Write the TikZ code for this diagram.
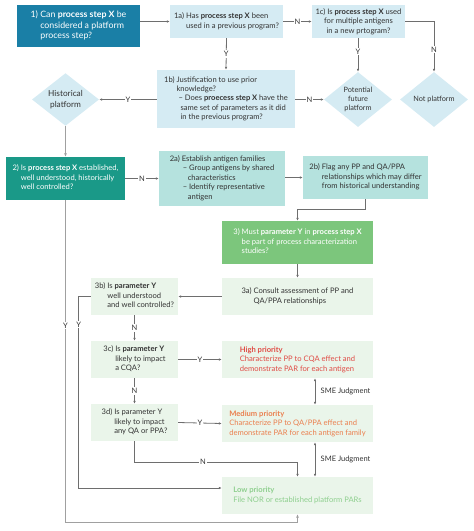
\documentclass[tikz,border=0pt]{standalone}
\usepackage{fontspec}
\setmainfont{Lato}
\usetikzlibrary{shapes.geometric,arrows.meta,calc}
\definecolor{cblue}{HTML}{1A7FA6}
\definecolor{lblue}{HTML}{D5EBF3}
\definecolor{cteal}{HTML}{1A9988}
\definecolor{lteal}{HTML}{B5E2DE}
\definecolor{cgreen}{HTML}{7CC67C}
\definecolor{lgreen}{HTML}{EAF5EA}
\definecolor{cred}{HTML}{E04B45}
\definecolor{corange}{HTML}{EA7F4E}
\definecolor{clow}{HTML}{8ECF8E}
\definecolor{txt}{HTML}{333333}
\definecolor{lnthin}{HTML}{6E6E6E}
\definecolor{lnthick}{HTML}{A0A0A0}
\newcommand{\fs}{\fontsize{7.6}{9.4}\selectfont}
\newenvironment{hng}{\begin{tabular}{@{}l@{\ }l@{}}}{\end{tabular}}
\tikzset{
  bx/.style={rectangle, inner sep=0pt, align=left, text=txt, font=\fs},
  dia/.style={diamond, inner sep=0pt, fill=lblue, align=center, text=txt},
  arr/.style={draw=lnthin, line width=0.8pt, -{Latex[length=3pt,width=2.6pt]}},
  thk/.style={draw=lnthick, line width=1.4pt, -{Latex[length=3.5pt,width=3pt]}},
  dbl/.style={draw=lnthin, line width=0.8pt, {Latex[length=3pt,width=2.6pt]}-{Latex[length=3pt,width=2.6pt]}},
  lbl/.style={fill=white, inner sep=1pt, text=txt, font=\fontsize{7.5}{9}\selectfont},
}
\begin{document}
\begin{tikzpicture}[x=1pt,y=-1pt]
\useasboundingbox (0,0) rectangle (474,531);
% row 1
\node[bx, fill=cblue, text=white, minimum width=123pt, minimum height=42pt, font=\fontsize{8.8}{10.5}\selectfont] (n1) at (78.5,26)
 {\begin{hng}1)&Can \textbf{process step X} be\\&considered a platform\\&process step?\end{hng}};
\node[bx, fill=lblue, minimum width=113pt, minimum height=33pt] (n1a) at (226.5,21.5)
 {\begin{hng}1a)&Has \textbf{process step X} been\\&used in a previous program?\end{hng}};
\node[bx, fill=lblue, minimum width=93pt, minimum height=33pt, align=center] (n1c) at (358.5,21.5)
 {1c) Is \textbf{process step X} used\\for multiple antigens\\in a new prtogram?};
\node[bx, fill=lblue, minimum width=138pt, minimum height=58pt] (n1b) at (226,99)
 {\begin{hng}1b)&Justification to use prior\\&knowledge?\\&\hspace{2pt}–~Does \textbf{proecess step X} have the\\&\hspace{4pt}same set of parameters as it did\\&\hspace{4pt}in the previous program?\end{hng}};
\node[dia, minimum width=67pt, minimum height=51pt, font=\fontsize{8.3}{10.5}\selectfont] (hist) at (65.5,99.5) {Historical\\platform};
\node[dia, minimum width=68pt, minimum height=55pt, font=\fontsize{7.3}{9}\selectfont] (pot) at (358,99.5) {Potential\\future\\platform};
\node[dia, minimum width=68pt, minimum height=55pt, font=\fontsize{7.3}{9}\selectfont] (np) at (434,99.5) {Not platform};
% row 2
\node[bx, fill=cteal, text=white, minimum width=119pt, minimum height=43pt] (n2) at (65.5,178.5)
 {\begin{hng}2)&Is \textbf{process step X} established,\\&well understood, historically\\&well controlled?\end{hng}};
\node[bx, fill=lteal, minimum width=126pt, minimum height=55pt] (n2a) at (222,178.5)
 {\begin{hng}2a)&Establish antigen families\\&\hspace{1pt}–~Group antigens by shared\\&\hspace{6pt}characteristics\\&\hspace{1pt}–~Identify representative\\&\hspace{6pt}antigen\end{hng}};
\node[bx, fill=lteal, minimum width=125pt, minimum height=43pt] (n2b) at (365.5,177.5)
 {\begin{hng}2b)&Flag any PP and QA/PPA\\&relationships which may differ\\&from historical understanding\end{hng}};
% row 3
\node[bx, fill=cgreen, text=white, minimum width=151pt, minimum height=43pt] (n3) at (297.5,242.5)
 {\begin{hng}3)&Must \textbf{parameter Y} in \textbf{process step X}\\&be part of process characterization\\&studies?\end{hng}};
\node[bx, fill=lgreen, minimum width=151pt, minimum height=37pt] (n3a) at (297.5,296.5)
 {\begin{hng}3a)&Consult assessment of PP and\\&QA/PPA relationships\end{hng}};
\node[bx, fill=lgreen, minimum width=87pt, minimum height=37pt] (n3b) at (134.5,296.5)
 {\begin{hng}3b)&Is \textbf{parameter Y}\\&well understood\\&and well controlled?\end{hng}};
\node[bx, fill=lgreen, minimum width=87pt, minimum height=37pt] (n3c) at (134.5,359.5)
 {\begin{hng}3c)&Is \textbf{parameter Y}\\&likely to impact\\&a CQA?\end{hng}};
\node[bx, fill=lgreen, minimum width=87pt, minimum height=37pt] (n3d) at (134.5,422.5)
 {\begin{hng}3d)&Is parameter Y\\&likely to impact\\&any QA or PPA?\end{hng}};
\node[bx, fill=lgreen, text=cred, minimum width=151pt, minimum height=37pt] (high) at (297.5,359.5)
 {\textbf{High priority}\\Characterize PP to CQA effect and\\demonstrate PAR for each antigen};
\node[bx, fill=lgreen, text=corange, minimum width=151pt, minimum height=37pt] (med) at (297.5,423.5)
 {\textbf{Medium priority}\\Characterize PP to QA/PPA effect and\\demonstrate PAR for each antigen family};
\node[bx, fill=lgreen, text=clow, minimum width=151pt, minimum height=37pt] (low) at (297.5,495.5)
 {\textbf{Low priority}\\File NOR or established platform PARs};
% connectors
\draw[arr] (n1a.west -| n1.east) -- (n1a.west);
\draw[arr] (n1a.east) -- node[lbl]{N} (n1c.west);
\draw[arr] (n1a.south) -- node[lbl]{Y} (n1b.north);
\draw[arr] (n1c.south -| pot.north) -- node[lbl,pos=0.4]{Y} (pot.north);
\draw[arr] (n1c.east) -| node[lbl,pos=0.78]{N} (np.north);
\draw[arr] (n1b.east |- pot.west) -- node[lbl]{N} (pot.west);
\draw[arr] (n1b.west |- hist.east) -- node[lbl]{Y} (hist.east);
\draw[thk] (hist.south) -- (n2.north);
\draw[arr] (n2.east) -- node[lbl]{N} (n2a.west);
\draw[arr] (n2a.east |- n2b.west) -- (n2b.west);
\draw[arr] (n2b.south) -- ++(0,10) -| (n3.north);
\draw[arr] (n3.south) -- (n3a.north);
\draw[arr] (n3a.west) -- (n3b.east);
\draw[arr] (n3b.south) -- node[lbl]{N} (n3c.north);
\draw[arr] (n3c.east) -- node[lbl]{Y} (high.west);
\draw[arr] (n3c.south) -- node[lbl]{N} (n3d.north);
\draw[arr] (n3d.east) -- node[lbl]{Y} (med.west);
\draw[arr] (n3d.south) -- ++(0,21) -| node[lbl,pos=0.21]{N} (low.north);
\draw[arr] (n3b.west) -- ++(-12,0) |- node[lbl,pos=0.073]{Y} ([yshift=7.5pt]low.west);
\draw[thk] (n2.south) -- node[lbl,pos=0.39]{Y} ++(0,322) -| (low.south);
\draw[dbl] ([xshift=17.5pt]high.south) -- node[right=2pt, text=txt, font=\fontsize{7.5}{9}\selectfont]{SME Judgment} ([xshift=17.5pt]med.north);
\draw[dbl] ([xshift=17.5pt]med.south) -- node[right=2pt, text=txt, font=\fontsize{7.5}{9}\selectfont]{SME Judgment} ([xshift=17.5pt]low.north);
\end{tikzpicture}
\end{document}
